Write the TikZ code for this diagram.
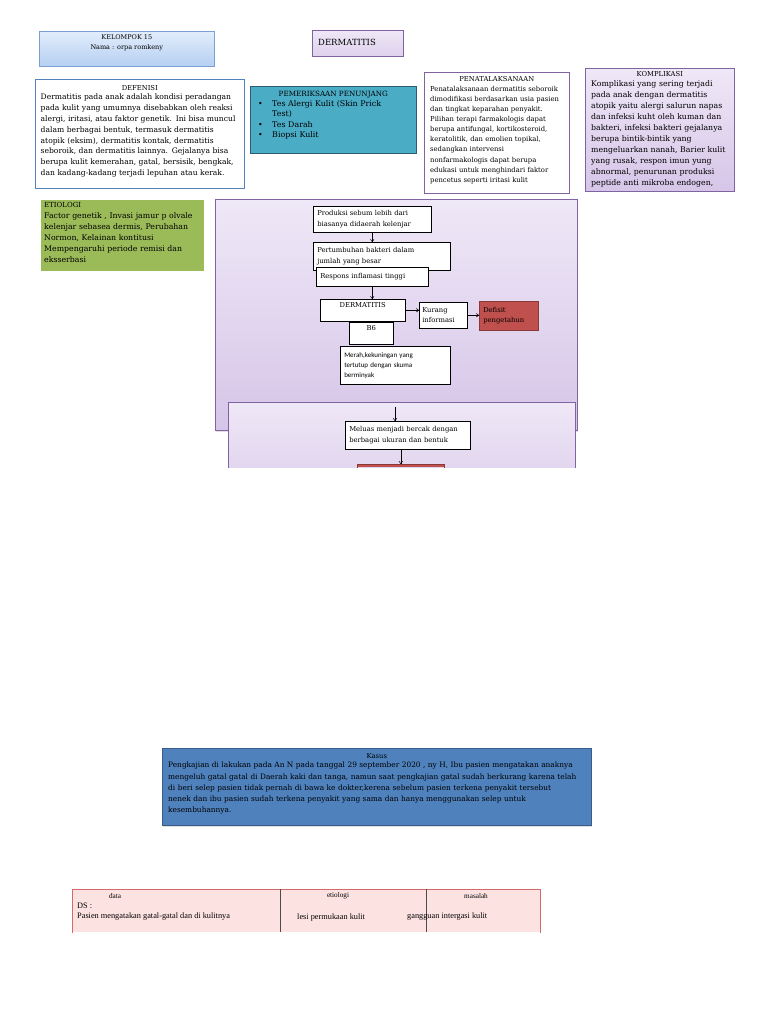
\documentclass[tikz,border=0pt]{standalone}
\usepackage{fontspec}
\setmainfont{DejaVu Serif}
\newfontfamily\tabfont{Liberation Serif}
\newfontfamily\calfont{Carlito}
\usetikzlibrary{positioning,shadows,arrows.meta}
\newcommand\fsz[2]{\fontsize{#1}{#2}\selectfont}
\definecolor{kelborder}{HTML}{7BA0D4}
\definecolor{keltop}{HTML}{E2EDFB}
\definecolor{kelbot}{HTML}{B6CFF2}
\definecolor{defborder}{HTML}{4F81BD}
\definecolor{teal}{HTML}{4BACC6}
\definecolor{tealborder}{HTML}{2C5D6E}
\definecolor{ungu}{HTML}{8064A2}
\definecolor{ungutop}{HTML}{EFE8F7}
\definecolor{ungubot}{HTML}{D6C5E8}
\definecolor{hijau}{HTML}{9BBB59}
\definecolor{merahbox}{HTML}{C0504D}
\definecolor{merahborder}{HTML}{8C3836}
\definecolor{kasusblue}{HTML}{4F81BD}
\definecolor{kasusborder}{HTML}{385D8A}
\definecolor{pink}{HTML}{FDE2E2}
\definecolor{pinkborder}{HTML}{D46A6A}
\begin{document}
\begin{tikzpicture}[x=1pt,y=-1pt,
    box/.style={rectangle, anchor=north west, inner sep=0pt, line width=0.6pt},
    shade/.style={drop shadow={opacity=0.25, shadow xshift=1pt, shadow yshift=-1.2pt}},
    txt/.style={inner sep=0pt, align=left, anchor=north west},
    flow/.style={box, draw=black, fill=white, line width=0.5pt, align=left,
      inner xsep=4pt, inner ysep=2pt, font=\fsz{6.8}{10.5}},
    arr/.style={-{To[length=3pt,width=4pt]}, line width=0.5pt}]
  \useasboundingbox[fill=white] (0,0) rectangle (768,1024);

  \node[box, draw=kelborder, top color=keltop, bottom color=kelbot, shade,
    minimum width=175pt, minimum height=35pt] (kelompok) at (39,31) {};
  \node[txt, align=center, font=\fsz{6.5}{10}, below=3.5pt of kelompok.north]
    (kelompok-t) {KELOMPOK 15\\Nama : orpa romkeny};

  \node[box, draw=ungu, top color=ungutop, bottom color=ungubot!80, shade,
    minimum width=91pt, minimum height=26pt] (judul) at (312,30) {};
  \node[txt, font=\fsz{8.5}{10}, below right=9pt and 6pt of judul.north west]
    (judul-t) {DERMATITIS};

  \node[box, draw=defborder, fill=white, shade,
    minimum width=209pt, minimum height=109pt] (defenisi) at (35,79) {};
  \node[txt, font=\fsz{6.8}{9}, below=6pt of defenisi.north] (defenisi-h) {DEFENISI};
  \node[txt, text width=202pt, font=\fsz{7.6}{10.8}, below right=15pt and 5.5pt of defenisi.north west]
    (defenisi-t) {Dermatitis pada anak adalah kondisi peradangan\\
    pada kulit yang umumnya disebabkan oleh reaksi\\
    alergi, iritasi, atau faktor genetik. Ini bisa muncul\\
    dalam berbagai bentuk, termasuk dermatitis\\
    atopik (eksim), dermatitis kontak, dermatitis\\
    seboroik, dan dermatitis lainnya. Gejalanya bisa\\
    berupa kulit kemerahan, gatal, bersisik, bengkak,\\
    dan kadang-kadang terjadi lepuhan atau kerak.};

  \node[box, draw=tealborder, fill=teal, shade,
    minimum width=166pt, minimum height=67pt] (pemeriksaan) at (250,86) {};
  \node[txt, font=\fsz{7.2}{9}, below=5pt of pemeriksaan.north] (pemeriksaan-h) {PEMERIKSAAN PENUNJANG};
  \node[txt, text width=150pt, font=\fsz{7.9}{10.4}, below right=14pt and 8pt of pemeriksaan.north west]
    (pemeriksaan-t) {\makebox[14pt][l]{\textbullet}Tes Alergi Kulit (Skin Prick\\
    \hspace*{14pt}Test)\\
    \makebox[14pt][l]{\textbullet}Tes Darah\\
    \makebox[14pt][l]{\textbullet}Biopsi Kulit};

  \node[box, draw=ungu, fill=white,
    minimum width=145pt, minimum height=121pt] (penatalaksanaan) at (424,72) {};
  \node[txt, font=\fsz{6.8}{9}, below=4.5pt of penatalaksanaan.north] (penatalaksanaan-h) {PENATALAKSANAAN};
  \node[txt, text width=140pt, font=\fsz{6.8}{10.1}, below right=14pt and 6pt of penatalaksanaan.north west]
    (penatalaksanaan-t) {Penatalaksanaan dermatitis seboroik\\
    dimodifikasi berdasarkan usia pasien\\
    dan tingkat keparahan penyakit.\\
    Pilihan terapi farmakologis dapat\\
    berupa antifungal, kortikosteroid,\\
    keratolitik, dan emolien topikal,\\
    sedangkan intervensi\\
    nonfarmakologis dapat berupa\\
    edukasi untuk menghindari faktor\\
    pencetus seperti iritasi kulit};

  \node[box, draw=ungu, top color=ungutop, bottom color=ungubot, shade,
    minimum width=149pt, minimum height=123pt] (komplikasi) at (585,68) {};
  \node[txt, font=\fsz{6.8}{9}, below=3.5pt of komplikasi.north] (komplikasi-h) {KOMPLIKASI};
  \node[txt, text width=146pt, font=\fsz{7.8}{11}, below right=12pt and 6pt of komplikasi.north west]
    (komplikasi-t) {Komplikasi yang sering terjadi\\
    pada anak dengan dermatitis\\
    atopik yaitu alergi salurun napas\\
    dan infeksi kuht oleh kuman dan\\
    bakteri, infeksi bakteri gejalanya\\
    berupa bintik-bintik yang\\
    mengeluarkan nanah, Barier kulit\\
    yang rusak, respon imun yung\\
    abnormal, penurunan produksi\\
    peptide anti mikroba endogen,};

  \node[box, draw=white, line width=1.5pt, fill=hijau, shade,
    minimum width=165pt, minimum height=72pt] (etiologi) at (39,199) {};
  \node[txt, text width=162pt, font=\fsz{7.8}{11}, below right=3.5pt and 5pt of etiologi.north west]
    (etiologi-t) {{\fsz{7}{11}ETIOLOGI}\\
    Factor genetik , Invasi jamur p olvale\\
    kelenjar sebasea dermis, Perubahan\\
    Normon, Kelainan kontitusi\\
    Mempengaruhi periode remisi dan\\
    eksserbasi};

  \node[box, draw=ungu, top color=ungutop, bottom color=ungubot, shade,
    minimum width=362pt, minimum height=231pt] (patofis) at (215,199) {};
  \node[box, top color=ungutop, bottom color=ungubot!70,
    minimum width=347pt, minimum height=65pt] (patofis2) at (228,402) {};
  \draw[ungu, line width=0.6pt] (patofis2.south west) -- (patofis2.north west)
    -- (patofis2.north east) -- (patofis2.south east);

  \node[flow, minimum width=118pt, minimum height=26pt, text width=110pt] (produksi) at (313,206)
    {Produksi sebum lebih dari\\biasanya didaerah kelenjar};
  \node[flow, minimum width=137pt, minimum height=28pt, text width=129pt] (pertumbuhan) at (313,242)
    {Pertumbuhan bakteri dalam\\jumlah yang besar};
  \node[flow, minimum width=112pt, minimum height=19pt, text width=104pt] (respons) at (316,267)
    {Respons inflamasi tinggi};
  \node[flow, align=center, minimum width=85pt, minimum height=22pt, text width=77pt, text depth=10pt]
    (dermatitis) at (320,299) {DERMATITIS};
  \node[flow, align=center, minimum width=44pt, minimum height=22pt, text width=36pt, text depth=10pt]
    (b6) at (349,322) {B6};
  \node[flow, minimum width=48pt, minimum height=26pt, text width=42pt, inner xsep=3pt] (kurang) at (419,302)
    {Kurang\\informasi};
  \node[flow, fill=merahbox, draw=merahborder, minimum width=59pt, minimum height=29pt, text width=51pt]
    (defisit) at (479,301) {Defisit\\pengetahun};
  \node[flow, font=\calfont\fsz{7}{10}, minimum width=110pt, minimum height=38pt, text width=102pt]
    (merah) at (340,346) {Merah,kekuningan yang\\tertutup dengan skuma\\berminyak};
  \node[flow, minimum width=125pt, minimum height=28pt, text width=117pt] (meluas) at (345,421)
    {Meluas menjadi bercak dengan\\berbagai ukuran dan bentuk};
  \node[box, fill=merahbox, minimum width=87pt, minimum height=3pt] (lanjut) at (357,464) {};
  \draw[merahborder, line width=0.5pt] (lanjut.south west) -- (lanjut.north west)
    -- (lanjut.north east) -- (lanjut.south east);
  \coordinate (meluas-in) at (395,407);

  \begin{scope}[arr]
    \draw (produksi.south) -- (produksi.south |- pertumbuhan.north);
    \draw (respons.south) -- (respons.south |- dermatitis.north);
    \draw (dermatitis.east) -- (dermatitis.east -| kurang.west);
    \draw (kurang.east) -- (kurang.east -| defisit.west);
    \draw (meluas-in) -- (meluas-in |- meluas.north);
    \draw (lanjut.north |- meluas.south) -- (lanjut.north);
  \end{scope}

  \node[box, draw=kasusborder, fill=kasusblue, shade,
    minimum width=429pt, minimum height=77pt] (kasus) at (162,748) {};
  \node[txt, font=\fsz{6.8}{9}, below=5.5pt of kasus.north] (kasus-h) {Kasus};
  \node[txt, text width=425pt, font=\fsz{7.4}{11.2}, below right=14pt and 6pt of kasus.north west]
    (kasus-t) {Pengkajian di lakukan pada An N pada tanggal 29 september 2020 , ny H, Ibu pasien mengatakan anaknya\\
    mengeluh gatal gatal di Daerah kaki dan tanga, namun saat pengkajian gatal sudah berkurang karena telah\\
    di beri selep pasien tidak pernah di bawa ke dokter,kerena sebelum pasien terkena penyakit tersebut\\
    nenek dan ibu pasien sudah terkena penyakit yang sama dan hanya menggunakan selep untuk\\
    kesembuhannya.};

  \node[box, fill=pink, minimum width=468pt, minimum height=43pt] (tabel) at (72,889) {};
  \draw[pinkborder, line width=0.8pt] (tabel.south west) -- (tabel.north west)
    -- (tabel.north east) -- (tabel.south east);
  \draw[black!70, line width=0.5pt] (280,889) -- (280,932) (426,889) -- (426,932);
  \begin{scope}[every node/.style={inner sep=0pt, font=\tabfont\fsz{8.3}{10}}]
    \node[font=\tabfont\fsz{7.2}{8}] (data-h) at (115,896) {data};
    \node[font=\tabfont\fsz{7.2}{8}] (etiologi-h) at (338,896) {etiologi};
    \node[font=\tabfont\fsz{7.2}{8}] (masalah-h) at (476,896) {masalah};
    \node[anchor=west] (ds) at (77,906) {DS :};
    \node[anchor=west] (data-t) at (77,917) {Pasien mengatakan gatal-gatal dan di kulitnya};
    \node[anchor=west] (etiologi-t2) at (297,917) {lesi permukaan kulit};
    \node[anchor=west] (masalah-t) at (407,917) {gangguan intergasi kulit};
  \end{scope}
\end{tikzpicture}
\end{document}
